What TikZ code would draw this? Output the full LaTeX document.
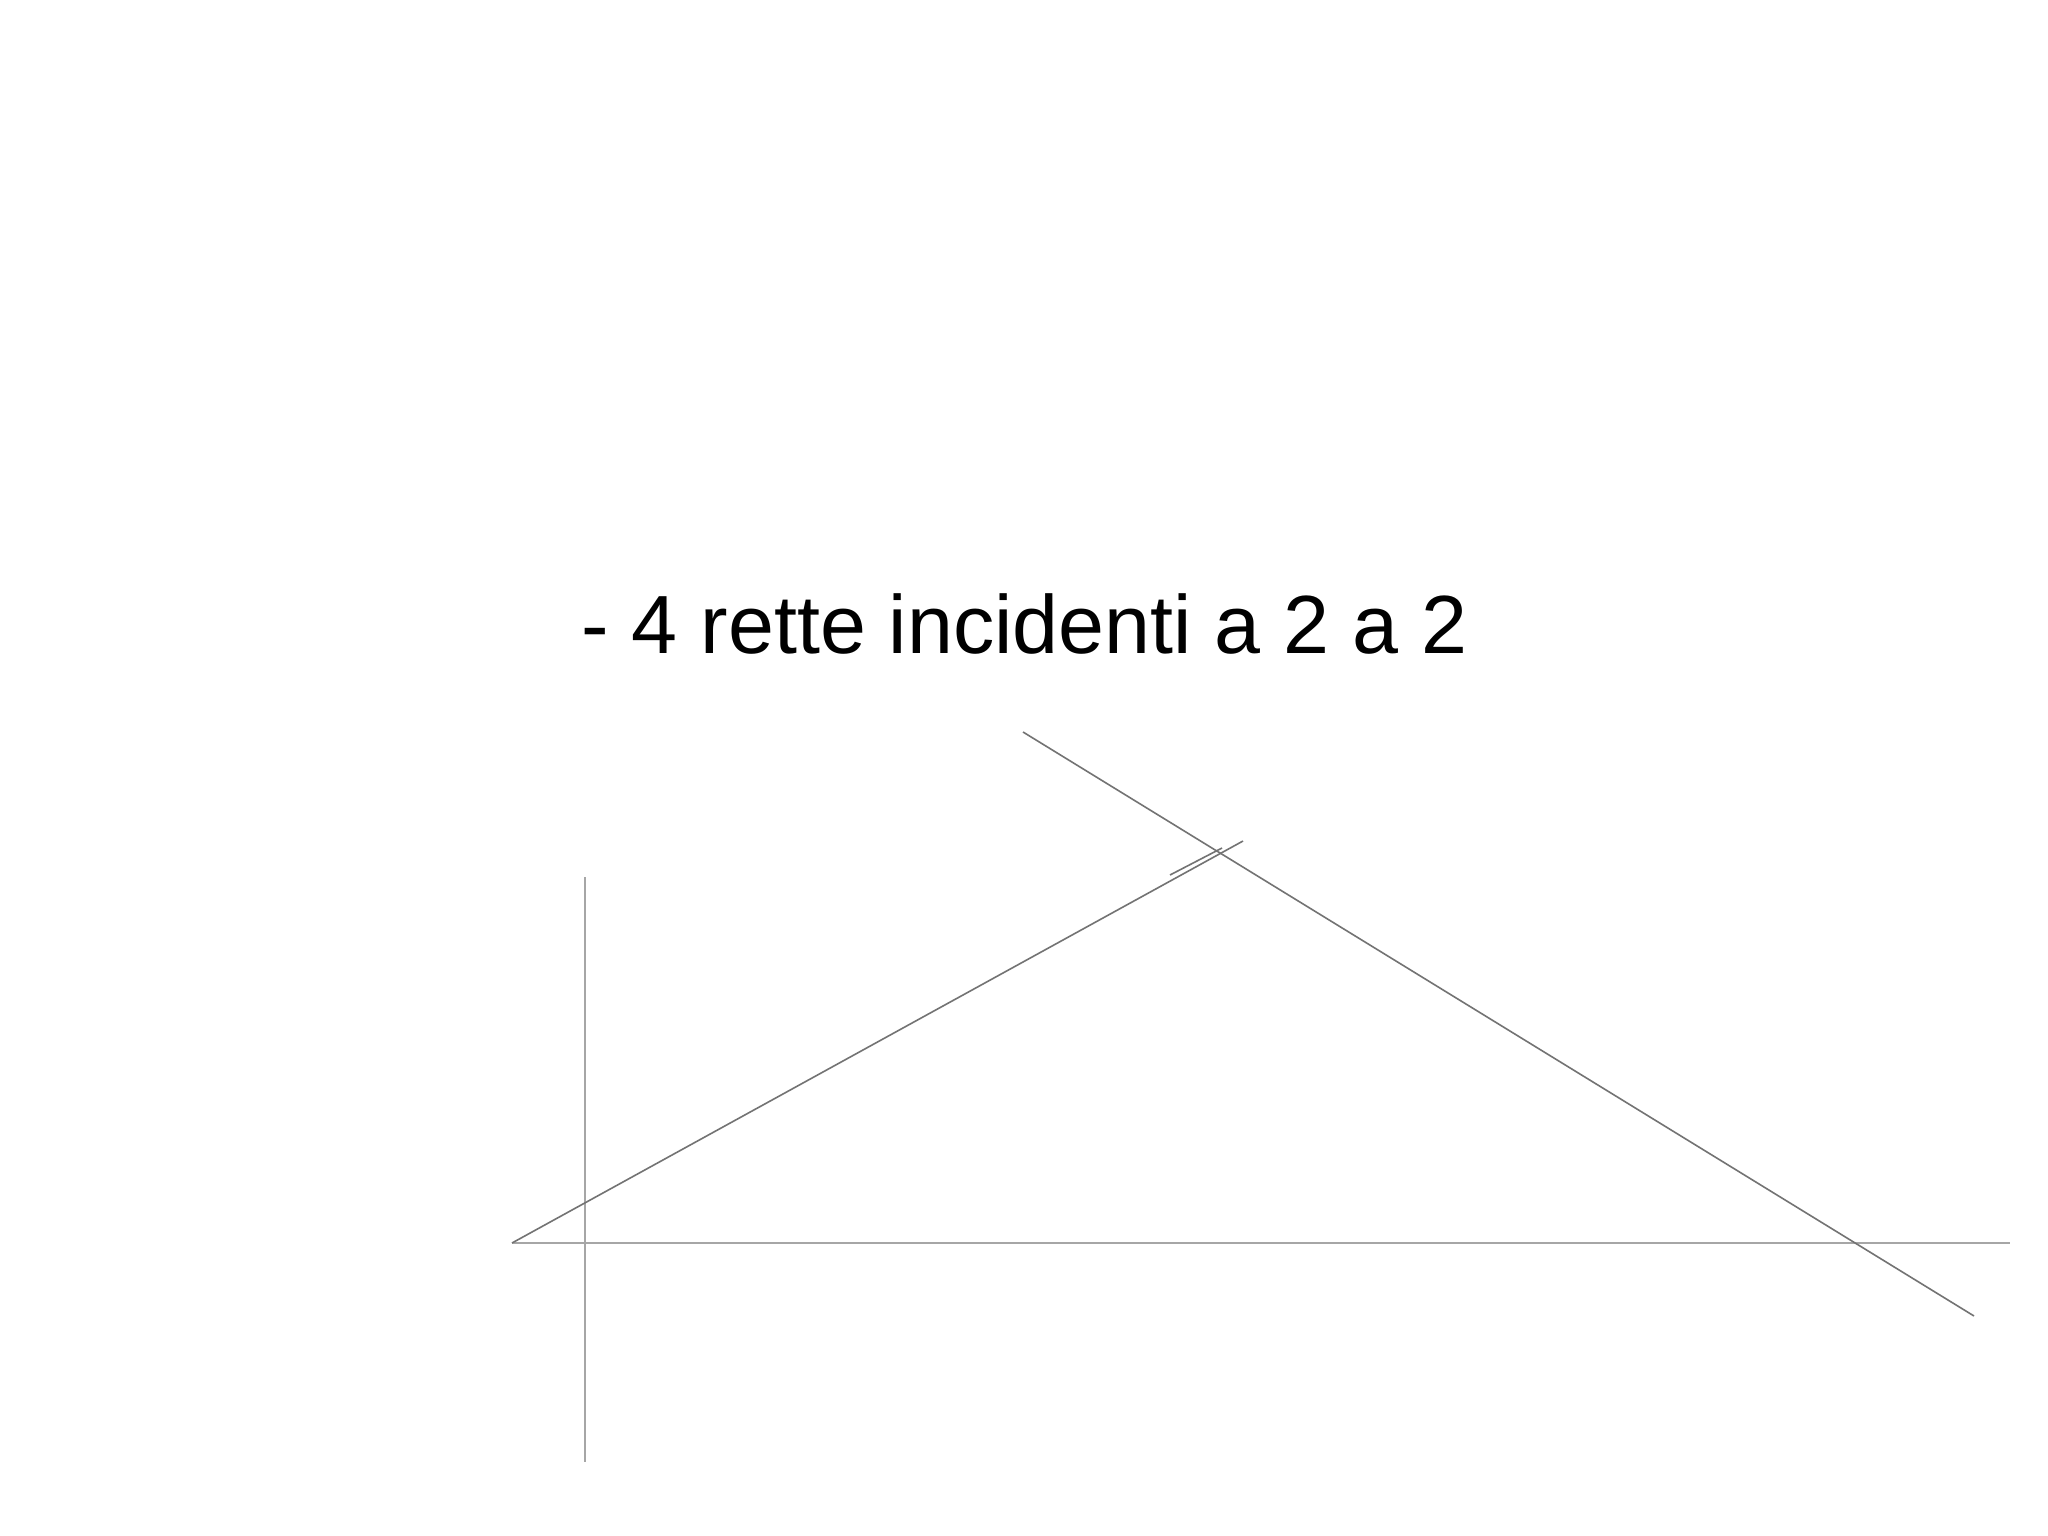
\documentclass[tikz,border=0pt]{standalone}
\usepackage{fontspec}
\setmainfont{Liberation Sans}
\begin{document}
\begin{tikzpicture}[x=0.5pt,y=-0.5pt,
  axisline/.style={draw=black!35,line width=1.3pt},
  diagline/.style={draw=black!55,line width=0.8pt}]
\useasboundingbox[fill=white] (0,0) rectangle (2048,1535);
\node[anchor=base west,inner sep=0pt,font=\fontsize{41.3}{49}\selectfont] (title) at (581,653) {- 4 rette incidenti a 2 a 2};
\coordinate (vT) at (585,877);
\coordinate (vB) at (585,1462);
\coordinate (hL) at (512,1243);
\coordinate (hR) at (2010,1243);
\coordinate (aS) at (512,1243);
\coordinate (aE) at (1243,841);
\coordinate (bS) at (1023,732);
\coordinate (bE) at (1974,1316);
\coordinate (cS) at (1170,875);
\coordinate (cE) at (1222,848);
\draw[axisline] (vT) -- (vB);
\draw[axisline] (hL) -- (hR);
\draw[diagline] (aS) -- (aE);
\draw[diagline] (bS) -- (bE);
\draw[diagline] (cS) -- (cE);
\end{tikzpicture}
\end{document}
